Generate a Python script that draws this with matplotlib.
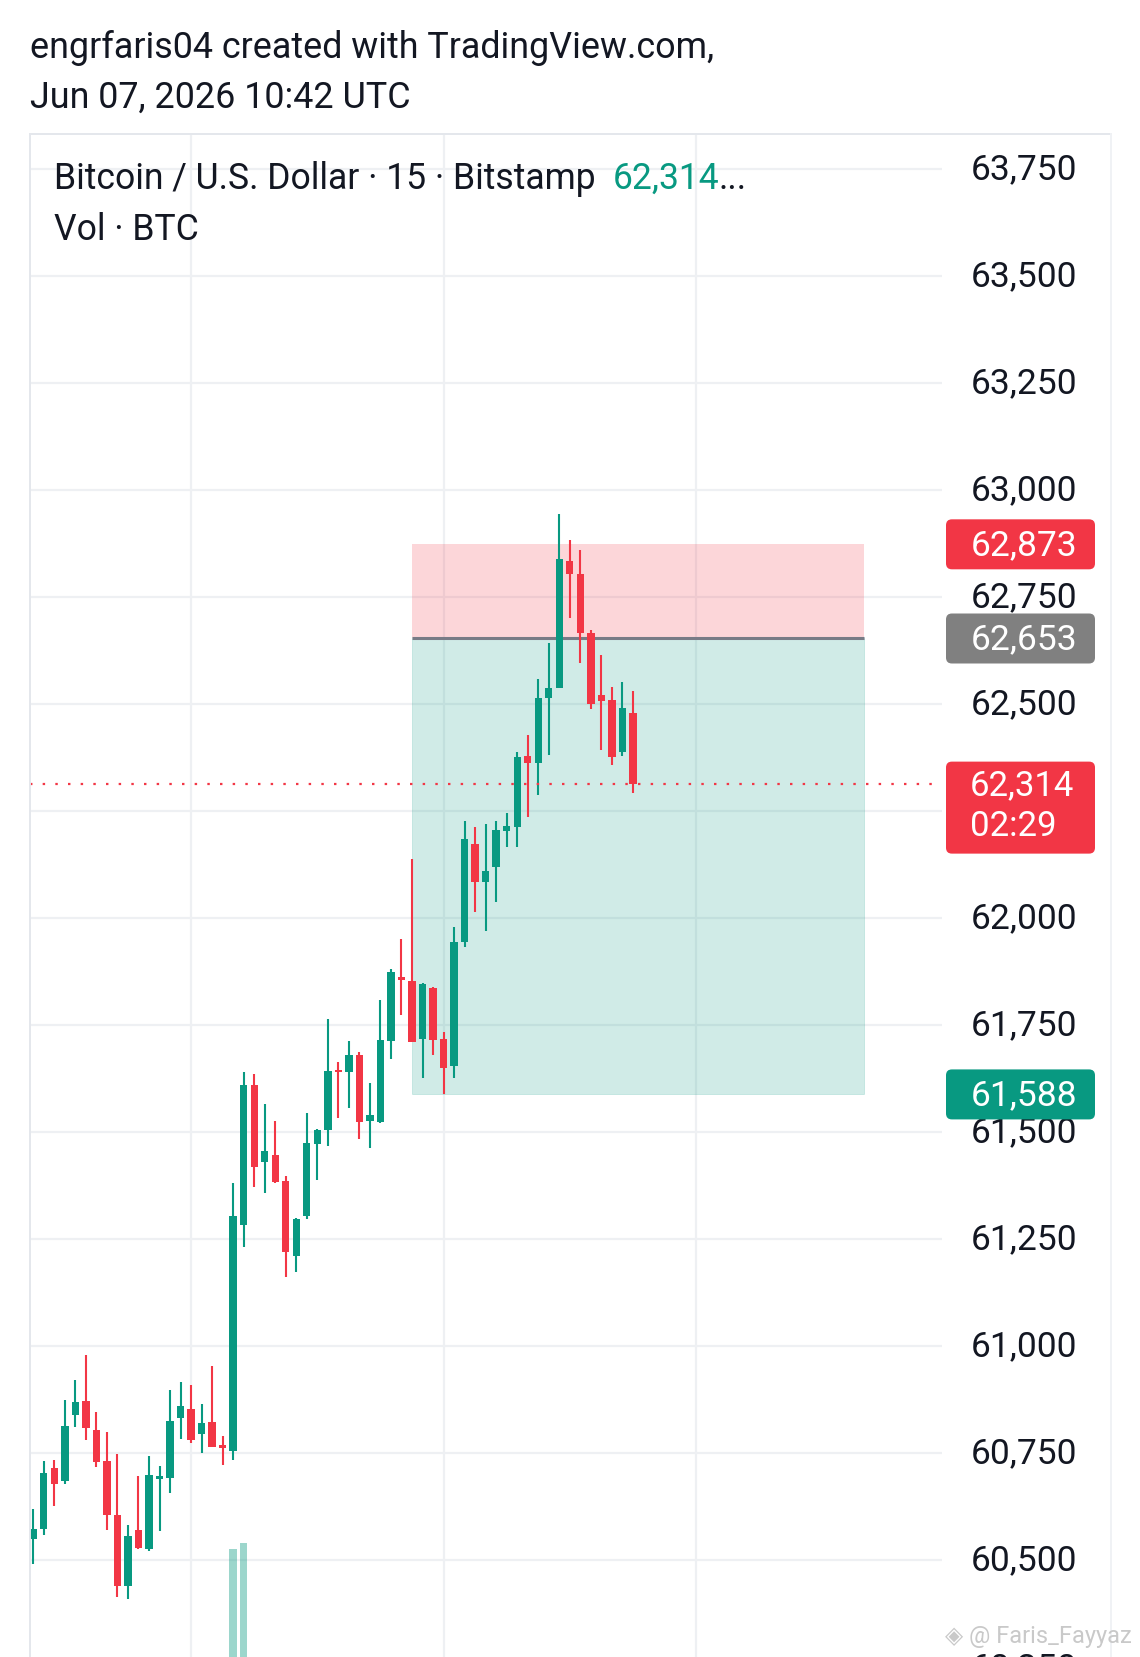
import numpy as np
import matplotlib
matplotlib.use('Agg')
import matplotlib.pyplot as plt
from matplotlib.patches import Rectangle, FancyBboxPatch
from matplotlib.lines import Line2D

plt.rcParams['font.family'] = ['Roboto', 'DejaVu Sans']

# BTC/USD 15m candles (Bitstamp)
opens = [60549, 60573, 60716, 60685, 60838, 60871, 60805, 60731, 60605, 60439,
         60571, 60527, 60690, 60692, 60831, 60854, 60795, 60822, 60767, 60756,
         61283, 61610, 61429, 61447, 61385, 61211, 61304, 61472, 61505, 61646,
         61640, 61680, 61527, 61524, 61712, 61862, 61853, 61718, 61837, 61717,
         61655, 61945, 62172, 62084, 62120, 62204, 62213, 62378, 62361, 62514,
         62537, 62833, 62803, 62667, 62521, 62510, 62387, 62480]
highs = [60620, 60732, 60735, 60875, 60922, 60979, 60847, 60800, 60748, 60581,
         60697, 60744, 60721, 60898, 60917, 60910, 60865, 60954, 60790, 61380,
         61640, 61636, 61566, 61527, 61398, 61300, 61545, 61508, 61764, 61663,
         61712, 61688, 61614, 61809, 61880, 61952, 62138, 61849, 61840, 61733,
         61980, 62226, 62213, 62219, 62226, 62245, 62388, 62427, 62559, 62643,
         62943, 62883, 62860, 62674, 62615, 62540, 62551, 62530]
lows = [60491, 60558, 60626, 60678, 60810, 60780, 60717, 60570, 60413, 60409,
        60526, 60522, 60567, 60658, 60782, 60774, 60750, 60764, 60722, 60734,
        61231, 61371, 61357, 61380, 61161, 61172, 61298, 61387, 61467, 61533,
        61556, 61485, 61463, 61522, 61671, 61773, 61710, 61626, 61679, 61590,
        61626, 61933, 62014, 61970, 62038, 62166, 62167, 62236, 62288, 62382,
        62537, 62700, 62595, 62488, 62392, 62357, 62378, 62292]
closes = [60573, 60704, 60678, 60814, 60869, 60808, 60729, 60605, 60439, 60557,
          60528, 60699, 60694, 60824, 60861, 60780, 60821, 60764, 60762, 61305,
          61610, 61418, 61455, 61383, 61219, 61296, 61474, 61506, 61642, 61640,
          61679, 61524, 61540, 61716, 61875, 61855, 61711, 61845, 61716, 61650,
          61945, 62184, 62084, 62109, 62206, 62215, 62377, 62361, 62515, 62537,
          62838, 62803, 62665, 62499, 62507, 62376, 62491, 62314]
# volume in BTC, only the two spikes reach the visible part of the pane
volumes = [35, 48, 30, 52, 40, 46, 38, 55, 70, 62,
           41, 50, 33, 58, 39, 44, 31, 47, 28, 204,
           207, 96, 60, 48, 72, 54, 66, 45, 88, 37,
           42, 57, 40, 81, 76, 58, 92, 61, 49, 52,
           110, 98, 64, 71, 56, 34, 83, 49, 77, 69,
           140, 75, 86, 63, 58, 52, 47, 44]

price_ticks = [60250, 60500, 60750, 61000, 61250, 61500, 61750, 62000,
               62250, 62500, 62750, 63000, 63250, 63500, 63750]
time_grid = [15, 39, 63]

stop_price = 62873
entry_price = 62653
target_price = 61588
pos_start, pos_end = 36, 79
countdown = '02:29'
last_price = closes[-1]

UP = '#089981'
DOWN = '#F23645'
GRID = '#eef0f3'
TXT = '#131722'

W, H = 1140, 1658
fig = plt.figure(figsize=(W / 100, H / 100), dpi=100)
fig.patch.set_facecolor('white')

def fx(px):
    return px / W

def fy(py):
    return 1 - py / H

# pane geometry in pixels
left, right, top, scale_right = 29.6, 942, 135, 1111
ymin, ymax = 60273.8, 63831.5
xmin, xmax = -0.35, 86.38

ax = fig.add_axes([fx(left), 0, fx(right - left), (H - top) / H])
ax.set_xlim(xmin, xmax)
ax.set_ylim(ymin, ymax)
ax.axis('off')

for p in price_ticks:
    ax.axhline(p, color=GRID, lw=1.6, zorder=0)
for t in time_grid:
    ax.axvline(t, color=GRID, lw=1.6, zorder=0)

# long position tool
ax.add_patch(Rectangle((pos_start, entry_price), pos_end - pos_start,
                       stop_price - entry_price, facecolor=DOWN, alpha=0.2,
                       edgecolor='none', zorder=1))
ax.add_patch(Rectangle((pos_start, target_price), pos_end - pos_start,
                       entry_price - target_price, facecolor=UP, alpha=0.19,
                       edgecolor=UP, linewidth=0.6, zorder=1))
ax.plot([pos_start, pos_end], [entry_price, entry_price], color='#787b86',
        lw=2.2, zorder=1.5, solid_capstyle='butt')

# candles
idx = np.arange(len(closes))
o = np.array(opens)
c = np.array(closes)
cols = [UP if cc >= oo else DOWN for oo, cc in zip(o, c)]
ax.vlines(idx, lows, highs, colors=cols, lw=1.5, zorder=3)
body_h = np.maximum(np.abs(c - o), 6)
ax.bar(idx, body_h, bottom=np.minimum(o, c), width=0.7, color=cols,
       edgecolor='none', zorder=4)

# last price dotted line
ax.axhline(last_price, color=DOWN, lw=1.6, linestyle=(0, (1.1, 4.6)),
           zorder=5)

# volume overlay (its base sits below the visible part of the chart)
axv = ax.twinx()
axv.set_ylim(150, 150 + (H - top) * 0.5)
axv.set_xlim(xmin, xmax)
axv.axis('off')
axv.bar(idx, volumes, width=0.7, color=cols, alpha=0.4, edgecolor='none')

# price scale
axp = fig.add_axes([fx(right), 0, fx(scale_right - right), (H - top) / H])
axp.set_xlim(0, 1)
axp.set_ylim(ymin, ymax)
axp.axis('off')
usd_per_px = (ymax - ymin) / (H - top)
last_box = (last_price - 70 * usd_per_px, last_price + 22 * usd_per_px)

lab_x = (1077 - right) / (scale_right - right)
for p in price_ticks:
    if last_box[0] < p < last_box[1]:
        continue  # fully covered by the last price label
    axp.text(lab_x, p, f'{p:,}', ha='right', va='center', fontsize=25.5,
             color=TXT, clip_on=False, zorder=2)

bx0 = (946 - right) / (scale_right - right)
bx1 = (1095 - right) / (scale_right - right)
aspect = usd_per_px * (scale_right - right)

def price_box(y0, y1, color, zorder=5):
    axp.add_patch(FancyBboxPatch((bx0, y0), bx1 - bx0, y1 - y0,
                                 boxstyle='round,pad=0,rounding_size=0.035',
                                 mutation_aspect=aspect, facecolor=color,
                                 edgecolor='none', zorder=zorder,
                                 clip_on=False))

half = 25 * usd_per_px
for price, color in [(stop_price, DOWN), (entry_price, '#808080'),
                     (target_price, UP)]:
    price_box(price - half, price + half, color)
    axp.text(lab_x, price, f'{price:,}', ha='right', va='center',
             fontsize=25.5, color='white', zorder=6)

# last price label with bar countdown underneath
price_box(last_box[0], last_box[1], DOWN)
axp.text((970 - right) / (scale_right - right), last_price - 21.5 * usd_per_px,
         f'{last_price:,}\n{countdown}', ha='left', va='center',
         fontsize=25, linespacing=1.28, color='white', zorder=6)

# pane frame
frame = '#e4e7ec'
fig.add_artist(Line2D([fx(left), fx(left)], [fy(top), 0], color=frame, lw=1.4))
fig.add_artist(Line2D([fx(left), fx(scale_right)], [fy(top), fy(top)],
                      color=frame, lw=1.4))
fig.add_artist(Line2D([fx(scale_right), fx(scale_right)], [fy(top), 0],
                      color='#f0f2f5', lw=1.4))

# header and legend
fig.text(fx(29.6), fy(48), 'engrfaris04 created with TradingView.com,',
         ha='left', va='center', fontsize=25.8, color=TXT)
fig.text(fx(29.6), fy(98), 'Jun 07, 2026 10:42 UTC',
         ha='left', va='center', fontsize=25.8, color=TXT)

t1 = fig.text(fx(54), fy(179), 'Bitcoin / U.S. Dollar · 15 · Bitstamp',
              ha='left', va='center', fontsize=25.6, color=TXT)
t2 = ax.annotate(f'{last_price:,}', xy=(1, 0.5), xycoords=t1,
                 xytext=(12, 0), textcoords='offset points',
                 ha='left', va='center', fontsize=25.6, color=UP)
ax.annotate('...', xy=(1, 0.5), xycoords=t2, xytext=(0, 0),
            textcoords='offset points', ha='left', va='center',
            fontsize=25.6, color=TXT)
fig.text(fx(54), fy(230), 'Vol · BTC', ha='left', va='center',
         fontsize=25.6, color=TXT)

fig.text(fx(945), fy(1637), '\u25c8 @ Faris_Fayyaz', ha='left', va='center',
         fontsize=17, color='#c9c9c9')

fig.savefig('out.png', dpi=100, facecolor='white')
